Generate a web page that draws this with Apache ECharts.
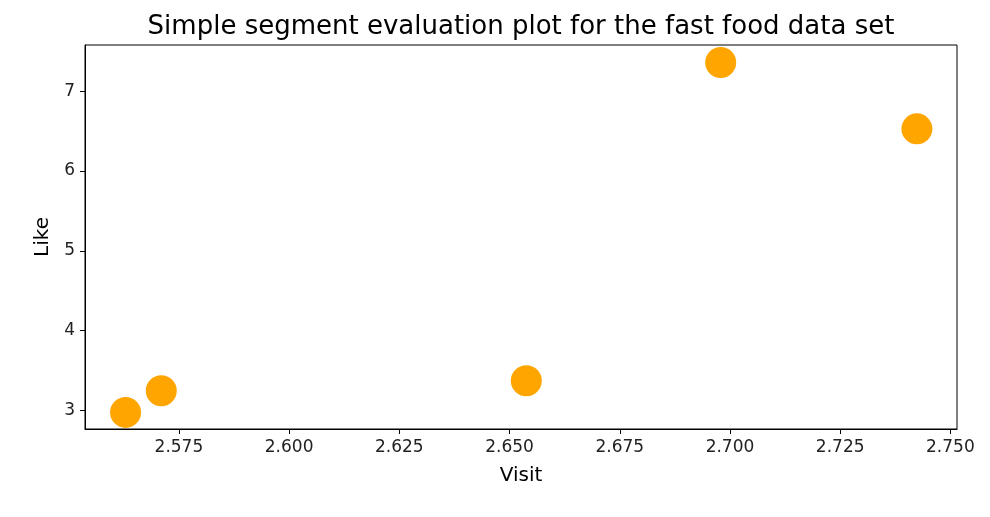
<!DOCTYPE html>
<html>
<head>
<meta charset="UTF-8"/>
<title>Simple segment evaluation plot</title>
<script src="https://cdn.jsdelivr.net/npm/echarts@6/dist/echarts.min.js"></script>
<style>
  html, body { margin: 0; padding: 0; background: #fff; }
  #chart { width: 990px; height: 517px; }
</style>
</head>
<body>
<div id="chart"></div>
<script>
// segment positions
const visit = [2.5629, 2.5710, 2.6538, 2.6979, 2.7424];
const like  = [2.975, 3.247, 3.372, 7.359, 6.528];
const xTicks = [2.575, 2.600, 2.625, 2.650, 2.675, 2.700, 2.725, 2.750];
const yTicks = [3, 4, 5, 6, 7];

const font = 'DejaVu Sans';
const chart = echarts.init(document.getElementById('chart'));

chart.setOption({
    animation: false,
    backgroundColor: '#fff',
    title: {
        text: 'Simple segment evaluation plot for the fast food data set',
        left: 516, top: 9, textAlign: 'center',
        textStyle: { fontFamily: font, fontSize: 26, fontWeight: 'normal', color: '#000' }
    },
    grid: {
        left: 85, right: 33, top: 45, bottom: 88,
        show: true, borderColor: '#000', borderWidth: 1
    },
    xAxis: {
        type: 'value', min: 2.5537, max: 2.7515,
        name: 'Visit', nameLocation: 'middle', nameGap: 37,
        nameTextStyle: { fontFamily: font, fontSize: 20, color: '#000' },
        axisLine: { show: true, lineStyle: { color: '#000', width: 1 } },
        axisTick: { show: true, length: 5, lineStyle: { color: '#000' }, customValues: xTicks },
        axisLabel: {
            fontFamily: font, fontSize: 17, color: '#222', margin: 10,
            customValues: xTicks, formatter: v => v.toFixed(3)
        },
        splitLine: { show: false }
    },
    yAxis: {
        type: 'value', min: 2.767, max: 7.579,
        name: 'Like', nameLocation: 'middle', nameGap: 28,
        nameTextStyle: { fontFamily: font, fontSize: 20, color: '#000' },
        axisLine: { show: true, lineStyle: { color: '#000', width: 1 } },
        axisTick: { show: true, length: 5, lineStyle: { color: '#000' }, customValues: yTicks },
        axisLabel: {
            fontFamily: font, fontSize: 17, color: '#222', margin: 10,
            customValues: yTicks
        },
        splitLine: { show: false }
    },
    series: [{
        type: 'scatter',
        symbolSize: 31,
        itemStyle: { color: '#FFA500', opacity: 1 },
        data: visit.map((v, i) => [v, like[i]])
    }]
});
</script>
</body>
</html>
